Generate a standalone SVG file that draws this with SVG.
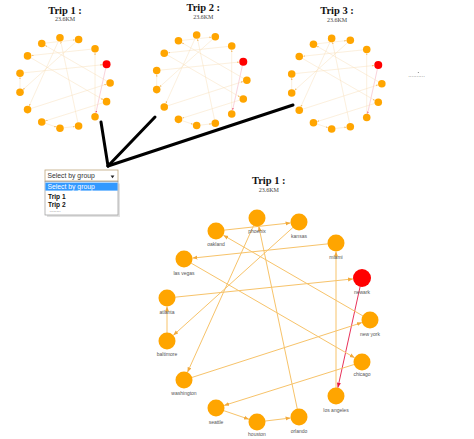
<svg xmlns="http://www.w3.org/2000/svg" xmlns:xlink="http://www.w3.org/1999/xlink" width="474" height="439" viewBox="0 0 474 439">
<style>
.t{font-family:"Liberation Serif",serif;font-weight:bold;font-size:10.5px;fill:#111;text-anchor:middle}
.d{font-family:"Liberation Serif",serif;font-size:6px;fill:#444;text-anchor:middle}
.e{fill:none;stroke:#f7c36a;stroke-width:1;marker-end:url(#ar)}
.er{fill:none;stroke:#e8335a;stroke-width:1;marker-end:url(#arr)}
.me{fill:none;stroke:#f6d29a;stroke-width:1;marker-end:url(#ar)}
.mer{fill:none;stroke:#ef7c93;stroke-width:1;marker-end:url(#arr)}
.n{fill:#ffa500}
.nr{fill:#ff0000}
.l{font-family:"Liberation Sans",Arial,sans-serif;font-size:5px;fill:#555;text-anchor:middle}
.bl{stroke:#000;stroke-width:3;stroke-linecap:round;fill:none}
.sel{font-family:"Liberation Sans",Arial,sans-serif;font-size:6.8px;fill:#333}
.opt{font-family:"Liberation Sans",Arial,sans-serif;font-size:6.6px;font-weight:bold;fill:#111}
</style>
<defs>
<marker id="ar" viewBox="0 0 10 10" refX="10" refY="5" markerWidth="5" markerHeight="5" orient="auto"><path d="M0,1 L10,5 L0,9 z" fill="#f2a93b"/></marker>
<marker id="arr" viewBox="0 0 10 10" refX="10" refY="5" markerWidth="5" markerHeight="5" orient="auto"><path d="M0,1 L10,5 L0,9 z" fill="#e8173f"/></marker>
<g id="mini">
<g opacity="0.75">
<path class="mer" d="M362,278 L337.83,387.7"/>
<path class="me" d="M336,396 L336,251.5"/>
<path class="me" d="M336,243 L192.45,258.11"/>
<path class="me" d="M184,259 L354.64,357.74"/>
<path class="me" d="M362,362 L224.11,405.45"/>
<path class="me" d="M216,408 L248.96,419.25"/>
<path class="me" d="M257,422 L290.56,418"/>
<path class="me" d="M299,417 L258.76,226.32"/>
<path class="me" d="M257,218 L187.49,372.25"/>
<path class="me" d="M184,380 L361.91,322.61"/>
<path class="me" d="M370,320 L223.36,235.25"/>
<path class="me" d="M216,231 L290.55,222.92"/>
<path class="me" d="M299,222 L173.31,335.31"/>
<path class="me" d="M167,341 L167,306.5"/>
<path class="me" d="M167,298 L353.05,278.92"/>
</g>
<circle class="n" cx="257" cy="218" r="8.5"/>
<circle class="n" cx="299" cy="222" r="8.5"/>
<circle class="n" cx="216" cy="231" r="8.5"/>
<circle class="n" cx="336" cy="243" r="8.5"/>
<circle class="n" cx="184" cy="259" r="8.5"/>
<circle class="nr" cx="362" cy="278" r="9"/>
<circle class="n" cx="167" cy="298" r="8.5"/>
<circle class="n" cx="370" cy="320" r="8.5"/>
<circle class="n" cx="167" cy="341" r="8.5"/>
<circle class="n" cx="362" cy="362" r="8.5"/>
<circle class="n" cx="184" cy="380" r="8.5"/>
<circle class="n" cx="336" cy="396" r="8.5"/>
<circle class="n" cx="216" cy="408" r="8.5"/>
<circle class="n" cx="257" cy="422" r="8.5"/>
<circle class="n" cx="299" cy="417" r="8.5"/>
</g>
</defs>
<rect width="474" height="439" fill="#fff"/>

<!-- Thumbnails -->
<g id="trip1-thumb">
<text class="t" x="65" y="14">Trip 1 :</text>
<text class="d" x="65" y="21.3">23.6KM</text>
<use xlink:href="#mini" transform="translate(-54.15,-59.1) scale(0.444)"/>
</g>
<g id="trip2-thumb">
<text class="t" x="203.3" y="10.7">Trip 2 :</text>
<text class="d" x="203.3" y="19">23.6KM</text>
<use xlink:href="#mini" transform="translate(82.55,-61.8) scale(0.444)"/>
</g>
<g id="trip3-thumb">
<text class="t" x="337" y="14">Trip 3 :</text>
<text class="d" x="337" y="22">23.6KM</text>
<use xlink:href="#mini" transform="translate(217.55,-58.4) scale(0.444)"/>
</g>
<g id="more">
<circle cx="418.3" cy="72.6" r="0.5" fill="#666"/>
<text class="l" x="416.5" y="76.5" style="font-size:6px;fill:#666">..........</text>
</g>

<!-- pointer lines -->
<g id="pointers">
<path class="bl" d="M101,122 L108,166"/>
<path class="bl" d="M108,166 L155,117"/>
<path class="bl" d="M108,166 L293,105"/>
</g>

<!-- dropdown -->
<g id="dropdown">
<rect x="45" y="170" width="73" height="11" fill="#fff" stroke="#bfa57c" stroke-width="0.8"/>
<text class="sel" x="47.5" y="178.2">Select by group</text>
<path d="M110.6,175.6 L114.4,175.6 L112.5,178.2 z" fill="#222"/>
<rect x="47" y="183.5" width="73" height="33.5" fill="#d6d6d6" opacity="0.7"/>
<rect x="45" y="181.5" width="73" height="33.5" fill="#fff" stroke="#999" stroke-width="0.7"/>
<rect x="45.4" y="182.6" width="72.2" height="8" fill="#3399ff"/>
<text class="sel" x="47.5" y="189" style="fill:#fff">Select by group</text>
<text class="opt" x="48" y="198.5">Trip 1</text>
<text class="opt" x="48" y="206.5">Trip 2</text>
<text class="sel" x="49.5" y="211.5" style="font-size:5px;fill:#555">........</text>
</g>

<!-- Main graph -->
<g id="main-title">
<text class="t" x="268.8" y="184.3">Trip 1 :</text>
<text class="d" x="268.8" y="192.3">23.6KM</text>
</g>
<g id="connectors">
<path class="er" d="M362,278 L337.83,387.7"/>
<path class="e" d="M336,396 L336,251.5"/>
<path class="e" d="M336,243 L192.45,258.11"/>
<path class="e" d="M184,259 L354.64,357.74"/>
<path class="e" d="M362,362 L224.11,405.45"/>
<path class="e" d="M216,408 L248.96,419.25"/>
<path class="e" d="M257,422 L290.56,418"/>
<path class="e" d="M299,417 L258.76,226.32"/>
<path class="e" d="M257,218 L187.49,372.25"/>
<path class="e" d="M184,380 L361.91,322.61"/>
<path class="e" d="M370,320 L223.36,235.25"/>
<path class="e" d="M216,231 L290.55,222.92"/>
<path class="e" d="M299,222 L173.31,335.31"/>
<path class="e" d="M167,341 L167,306.5"/>
<path class="e" d="M167,298 L353.05,278.92"/>
</g>
<g id="phoenix"><circle class="n" cx="257" cy="218" r="8.5"/><text class="l" x="257" y="233">phoenix</text></g>
<g id="kansas"><circle class="n" cx="299" cy="222" r="8.5"/><text class="l" x="299" y="237.5">kansas</text></g>
<g id="oakland"><circle class="n" cx="216" cy="231" r="8.5"/><text class="l" x="216" y="246.3">oakland</text></g>
<g id="miami"><circle class="n" cx="336" cy="243" r="8.5"/><text class="l" x="336" y="258.5">miami</text></g>
<g id="las-vegas"><circle class="n" cx="184" cy="259" r="8.5"/><text class="l" x="184" y="274.5">las vegas</text></g>
<g id="newark"><circle class="nr" cx="362" cy="278" r="9"/><text class="l" x="362" y="293.5">newark</text></g>
<g id="atlanta"><circle class="n" cx="167" cy="298" r="8.5"/><text class="l" x="167" y="313.5">atlanta</text></g>
<g id="new-york"><circle class="n" cx="370" cy="320" r="8.5"/><text class="l" x="370" y="335.5">new york</text></g>
<g id="baltimore"><circle class="n" cx="167" cy="341" r="8.5"/><text class="l" x="167" y="356.3">baltimore</text></g>
<g id="chicago"><circle class="n" cx="362" cy="362" r="8.5"/><text class="l" x="362" y="376.3">chicago</text></g>
<g id="washington"><circle class="n" cx="184" cy="380" r="8.5"/><text class="l" x="184" y="394.7">washington</text></g>
<g id="los-angeles"><circle class="n" cx="336" cy="396" r="8.5"/><text class="l" x="336" y="411.7">los angeles</text></g>
<g id="seattle"><circle class="n" cx="216" cy="408" r="8.5"/><text class="l" x="216" y="424.3">seattle</text></g>
<g id="houston"><circle class="n" cx="257" cy="422" r="8.5"/><text class="l" x="257" y="436.3">houston</text></g>
<g id="orlando"><circle class="n" cx="299" cy="417" r="8.5"/><text class="l" x="299" y="432.7">orlando</text></g>
</svg>
